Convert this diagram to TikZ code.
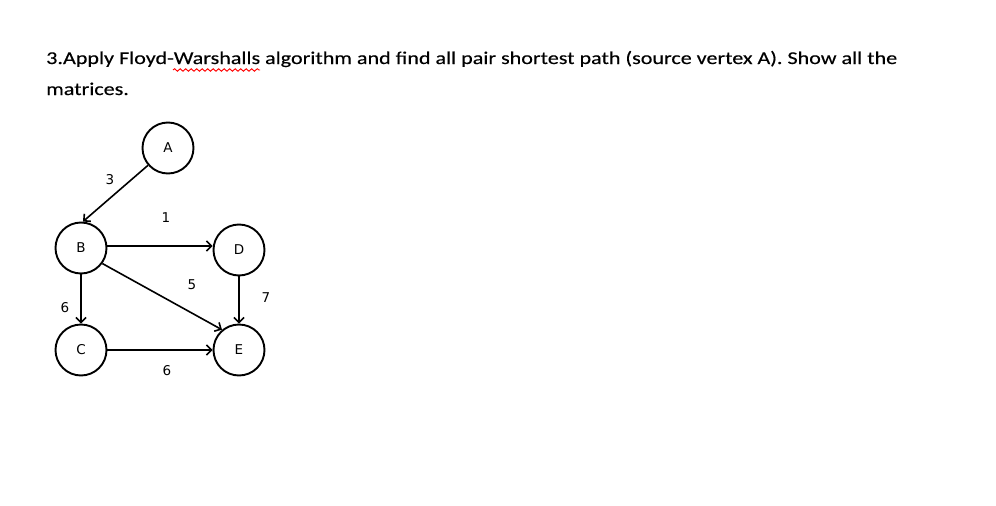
\documentclass[tikz,border=0pt]{standalone}
\usepackage{fontspec}
\setmainfont{Carlito}
\newfontfamily\titlefont[FakeStretch=1.226,FakeBold=0.3]{Carlito}
\newfontfamily\lblfont{DejaVu Sans}
\usetikzlibrary{arrows.meta,decorations.pathmorphing}
\tikzset{
  vert/.style={circle,draw,line width=1.9pt,minimum size=51pt,inner sep=0pt,font=\lblfont\fontsize{13.5}{15}\selectfont},
  edge/.style={line width=1.6pt,-{Straight Barb[length=5pt,width=10pt,line width=1.6pt]}},
  wlabel/.style={font=\lblfont\fontsize{13.5}{15}\selectfont,inner sep=0pt},
  title/.style={font=\titlefont\fontsize{18}{22}\selectfont,anchor=base west,inner sep=0pt}
}
\begin{document}
\begin{tikzpicture}[x=1pt,y=-1pt]
\useasboundingbox (0,0) rectangle (996,506);
\node[title] (t1) at (46,64) {3.Apply Floyd-Warshalls algorithm and find all pair shortest path (source vertex A). Show all the};
\node[title] (t2) at (46,95) {matrices.};
\draw[red,line width=0.9pt,decorate,decoration={snake,amplitude=1.3pt,segment length=5.5pt}] (173,70) -- (260,70);

\node[vert] (A) at (168,148) {A};
\node[vert] (B) at (81,248) {B};
\node[vert] (D) at (239,250) {D};
\node[vert] (C) at (81,350) {C};
\node[vert] (E) at (239,350) {E};

\draw[edge] (A) -- ([xshift=2pt]B.north);
\draw[edge] (B.east |- 0,246) coordinate (b1) -- (b1 -| D.west);
\draw[edge] (B.-36) -- (E.130);
\draw[edge] (B) -- (C);
\draw[edge] (D) -- (E);
\draw[edge] (C) -- (E);

\node[wlabel] (w3) at (110,180) {3};
\node[wlabel] (w1) at (166,218) {1};
\node[wlabel] (w5) at (192,285) {5};
\node[wlabel] (w7) at (266,298) {7};
\node[wlabel] (w6a) at (65,308) {6};
\node[wlabel] (w6b) at (167,371) {6};
\end{tikzpicture}
\end{document}
